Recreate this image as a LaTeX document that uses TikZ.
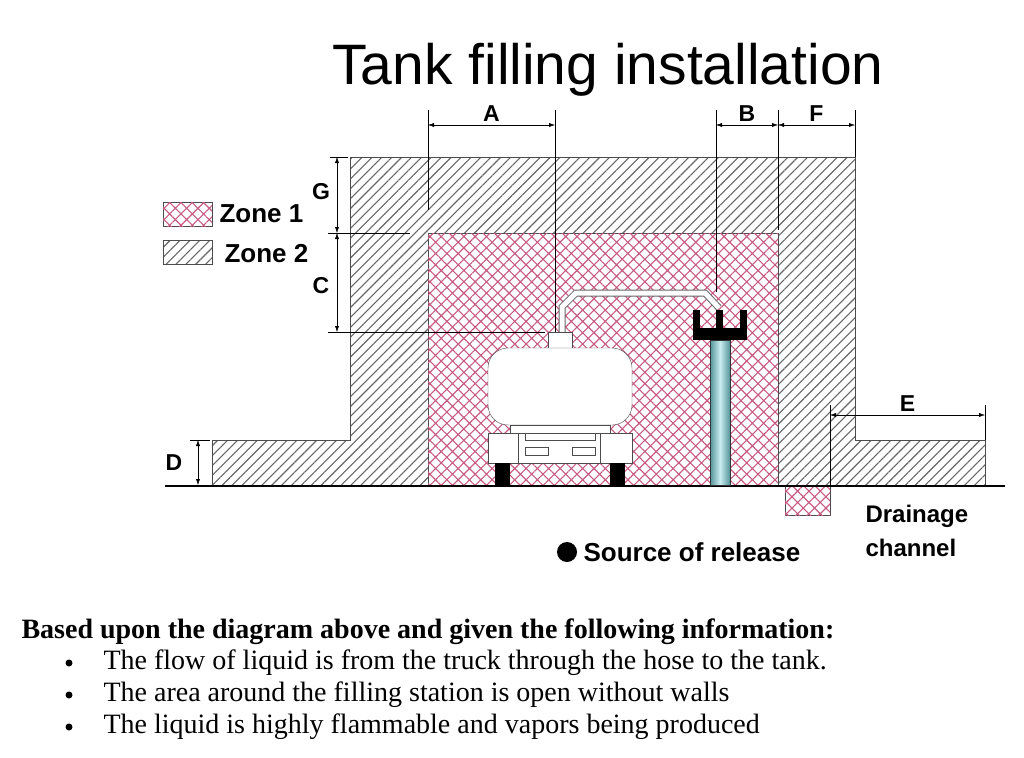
\documentclass[tikz,border=0pt]{standalone}
\usepackage{fontspec}
\setmainfont{Liberation Sans}
\newfontfamily\serifx{Liberation Serif}
\usetikzlibrary{patterns.meta,arrows.meta}
\definecolor{zpink}{RGB}{200,90,130}
\definecolor{pipecyan}{RGB}{120,210,220}
\begin{document}
\begin{tikzpicture}[x=1pt,y=-1pt,
  zone2/.style={draw=black!70,pattern={Lines[angle=45,distance=7pt,line width=1.1pt]},pattern color=black!60},
  zone1/.style={draw=black!70,fill=white,postaction={pattern={Hatch[angle=45,distance=8pt,line width=1.1pt]},pattern color=zpink}},
  dim/.style={{Latex[length=6pt,width=4pt]}-{Latex[length=6pt,width=4pt]},thin},
  ext/.style={thin},
  lab/.style={font=\fontsize{26}{30}\selectfont\bfseries},
  dl/.style={font=\fontsize{23}{25}\selectfont\bfseries},
  part/.style={draw=black!70,fill=white},
  txt/.style={font=\serifx\fontsize{28}{30}\selectfont,anchor=west}]
\useasboundingbox (0,0) rectangle (1024,757);
% title
\node (title) at (608,70) {\fontsize{57}{62}\selectfont Tank filling installation};
% zone 2 and zone 1
\draw[zone2] (212,485) -- (212,440) -- (350,440) -- (350,157) -- (855,157) -- (855,440)
  -- (985,440) -- (985,485);
\draw[zone1] (428,233) rectangle (778,485);
\draw[zone1] (785,485) rectangle (830,515);
% ground
\draw[line width=2.2pt] (165,486) -- (1005,486);
% legend
\draw[zone1] (163,202) rectangle (212,226);
\node[lab,anchor=west] (z1) at (216,214) {Zone 1};
\draw[zone2] (163,240) rectangle (212,264);
\node[lab,anchor=west] (z2) at (221,254) {Zone 2};
% extension lines
\draw[ext] (428,110) -- (428,210);
\draw[ext] (555,110) -- (555,332);
\draw[ext] (716,110) -- (716,292);
\draw[ext] (778,110) -- (778,230);
\draw[ext] (855,110) -- (855,157);
\draw[ext] (330,157) -- (348,157);
\draw[ext] (328,233) -- (410,233);
\draw[ext] (328,332) -- (545,332);
\draw[ext] (190,440) -- (210,440);
\draw[ext] (190,485) -- (210,485);
\draw[ext] (830,405) -- (830,485);
\draw[ext] (985,405) -- (985,440);
% dimensions
\coordinate (a1) at (428,125); \coordinate (a2) at (555,125);
\coordinate (b1) at (716,125); \coordinate (b2) at (778,125);
\coordinate (f2) at (855,125);
\coordinate (g1) at (337,157); \coordinate (g2) at (337,233);
\coordinate (c2) at (337,332);
\coordinate (d1) at (198,440); \coordinate (d2) at (198,485);
\coordinate (e1) at (830,415); \coordinate (e2) at (985,415);
\draw[dim] (a1) -- (a2) node[dl,midway,above=0pt] {A};
\draw[dim] (b1) -- (b2) node[dl,midway,above=0pt] {B};
\draw[dim] (b2) -- (f2) node[dl,midway,above=0pt] {F};
\draw[dim] (g1) -- (g2) node[dl,midway,xshift=-16pt,yshift=3pt] {G};
\draw[dim] (g2) -- (c2) node[dl,midway,xshift=-16pt,yshift=-3pt] {C};
\draw[dim] (d1) -- (d2) node[dl,midway,xshift=-24pt] {D};
\draw[dim] (e1) -- (e2) node[dl,midway,above=0pt] {E};
% hose
\draw[black!60,line width=7pt] (562,334) -- (562,307) -- (576,293) -- (705,293) -- (719,308);
\draw[white,line width=5pt] (562,334) -- (562,307) -- (576,293) -- (705,293) -- (719,308);
% truck
\draw[part] (548,332) rectangle (572,348);
\draw[part,rounded corners=20pt] (488,348) rectangle (632,425);
\draw[part] (510,425) rectangle (610,433);
\draw[part] (488,433) rectangle (518,463);
\draw[part] (518,433) rectangle (600,463);
\draw[part] (600,433) rectangle (632,463);
\draw[part] (525,433) rectangle (595,440);
\draw[part] (525,447) rectangle (548,455);
\draw[part] (572,447) rectangle (595,455);
\fill (495,463) rectangle (510,485);
\fill (610,463) rectangle (625,485);
% filling pipe
\draw[black!80,left color=pipecyan!70!black,right color=pipecyan!70!black,middle color=pipecyan!40] (710,340) rectangle (730,485);
\fill (693,328) rectangle (747,340);
\fill (693,310) rectangle (700,330);
\fill (716,310) rectangle (723,330);
\fill (740,310) rectangle (747,330);
% source of release
\fill (567,552) circle (10pt);
\node[lab,anchor=west] (src) at (580,552) {Source of release};
\node[lab,anchor=west,align=left,font=\fontsize{24}{34}\selectfont\bfseries] (drain) at (862,531) {Drainage\\channel};
% text
\node[txt,anchor=west,font=\serifx\bfseries\fontsize{28}{30}\selectfont] (t0) at (18,632) {Based upon the diagram above and given the following information:};
\foreach \y/\t [count=\i] in {663/{The flow of liquid is from the truck through the hose to the tank.},
  695/{The area around the filling station is open without walls},
  727/{The liquid is highly flammable and vapors being produced}}{
  \fill (69,\y) circle (3.5pt);
  \node[txt] (t\i) at (100,\y) {\t};
}
\end{tikzpicture}
\end{document}
